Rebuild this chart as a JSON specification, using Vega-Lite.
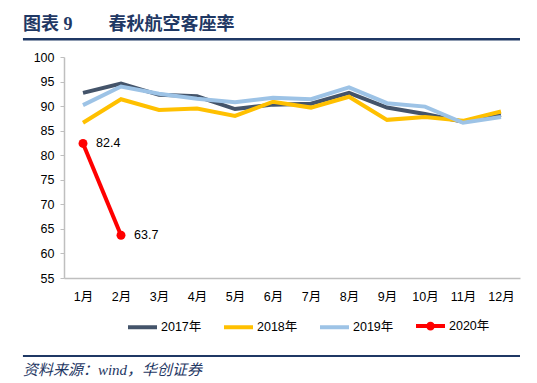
{
  "$schema": "https://vega.github.io/schema/vega-lite/v6.json",
  "padding": {"left": 22, "top": 16, "right": 12, "bottom": 4},
  "background": "white",
  "config": {
    "font": "Liberation Sans, Noto Sans CJK SC",
    "view": {"stroke": null}
  },
  "datasets": {
    "band": [{"start": 0, "end": 1}],
    "rate": [
      {"month": "1月", "year": "2017年", "value": 92.7},
      {"month": "2月", "year": "2017年", "value": 94.6},
      {"month": "3月", "year": "2017年", "value": 92.3},
      {"month": "4月", "year": "2017年", "value": 92.0},
      {"month": "5月", "year": "2017年", "value": 89.4},
      {"month": "6月", "year": "2017年", "value": 90.3},
      {"month": "7月", "year": "2017年", "value": 90.5},
      {"month": "8月", "year": "2017年", "value": 92.7},
      {"month": "9月", "year": "2017年", "value": 89.7},
      {"month": "10月", "year": "2017年", "value": 88.4},
      {"month": "11月", "year": "2017年", "value": 86.8},
      {"month": "12月", "year": "2017年", "value": 88.2},
      {"month": "1月", "year": "2018年", "value": 86.6},
      {"month": "2月", "year": "2018年", "value": 91.4},
      {"month": "3月", "year": "2018年", "value": 89.2},
      {"month": "4月", "year": "2018年", "value": 89.5},
      {"month": "5月", "year": "2018年", "value": 88.0},
      {"month": "6月", "year": "2018年", "value": 90.9},
      {"month": "7月", "year": "2018年", "value": 89.7},
      {"month": "8月", "year": "2018年", "value": 91.9},
      {"month": "9月", "year": "2018年", "value": 87.2},
      {"month": "10月", "year": "2018年", "value": 87.8},
      {"month": "11月", "year": "2018年", "value": 87.0},
      {"month": "12月", "year": "2018年", "value": 88.9},
      {"month": "1月", "year": "2019年", "value": 90.2},
      {"month": "2月", "year": "2019年", "value": 94.0},
      {"month": "3月", "year": "2019年", "value": 92.5},
      {"month": "4月", "year": "2019年", "value": 91.5},
      {"month": "5月", "year": "2019年", "value": 90.8},
      {"month": "6月", "year": "2019年", "value": 91.7},
      {"month": "7月", "year": "2019年", "value": 91.4},
      {"month": "8月", "year": "2019年", "value": 93.8},
      {"month": "9月", "year": "2019年", "value": 90.6},
      {"month": "10月", "year": "2019年", "value": 89.9},
      {"month": "11月", "year": "2019年", "value": 86.6},
      {"month": "12月", "year": "2019年", "value": 87.8},
      {"month": "1月", "year": "2020年", "value": 82.4},
      {"month": "2月", "year": "2020年", "value": 63.7}
    ]
  },
  "spacing": 10,
  "resolve": {"legend": {"color": "independent"}, "scale": {"x": "independent", "y": "independent", "color": "independent"}},
  "vconcat": [
    {
      "width": 456,
      "height": 2.5,
      "title": {
        "text": "图表 9　　春秋航空客座率",
        "anchor": "start",
        "font": "Liberation Serif, Noto Sans CJK SC",
        "fontSize": 18,
        "fontWeight": "bold",
        "color": "#1F3864",
        "offset": 4
      },
      "data": {"name": "band"},
      "mark": {"type": "rect", "color": "#1F3864", "clip": false},
      "encoding": {
        "x": {"field": "start", "type": "quantitative", "scale": {"domain": [0.0826, 1], "nice": false, "zero": false}, "axis": null},
        "x2": {"field": "end"},
        "y": {"field": "start", "type": "quantitative", "scale": {"domain": [0, 1], "nice": false}, "axis": null},
        "y2": {"field": "end"}
      }
    },
    {
      "width": 456,
      "height": 221,
      "data": {"name": "rate"},
      "encoding": {
        "x": {
          "field": "month",
          "type": "ordinal",
          "sort": ["1月", "2月", "3月", "4月", "5月", "6月", "7月", "8月", "9月", "10月", "11月", "12月"],
          "scale": {"type": "point", "padding": 0.5},
          "axis": {
            "title": null,
            "labelAngle": 0,
            "ticks": false,
            "domainColor": "#bfbfbf",
            "domainWidth": 1.5,
            "labelPadding": 12,
            "labelFontSize": 12.5,
            "labelColor": "#000000"
          }
        },
        "y": {
          "field": "value",
          "type": "quantitative",
          "scale": {"domain": [55, 100], "nice": false, "zero": false},
          "axis": {
            "title": null,
            "values": [55, 60, 65, 70, 75, 80, 85, 90, 95, 100],
            "grid": false,
            "domainColor": "#bfbfbf",
            "domainWidth": 1.5,
            "tickColor": "#bfbfbf",
            "tickSize": 4,
            "labelPadding": 6,
            "labelFontSize": 12.5,
            "labelColor": "#000000",
            "minExtent": 41
          }
        },
        "color": {
          "field": "year",
          "type": "nominal",
          "scale": {
            "domain": ["2017年", "2018年", "2019年", "2020年"],
            "range": ["#44546A", "#FFC000", "#9DC3E6", "#FF0000"]
          },
          "legend": {
            "title": null,
            "orient": "none",
            "legendX": 54,
            "legendY": 244.5,
            "padding": 8,
            "direction": "horizontal",
            "symbolType": "stroke",
            "symbolSize": 841,
            "symbolStrokeWidth": 4,
            "labelFontSize": 12.5,
            "labelColor": "#000000",
            "labelOffset": 2,
            "columnPadding": 14,
            "encode": {
              "symbols": {
                "update": {
                  "shape": {"signal": "datum.value === '2020年' ? 'M-1,0L1,0M0.16,0A0.16,0.16 0 1 1 -0.16,0A0.16,0.16 0 1 1 0.16,0Z' : 'stroke'"},
                  "fill": {"signal": "datum.value === '2020年' ? '#FF0000' : 'transparent'"}
                }
              }
            }
          }
        }
      },
      "layer": [
        {
          "mark": {"type": "line", "strokeWidth": 4},
          "encoding": {
            "strokeWidth": {
              "condition": {"test": "datum.year === '2020年'", "value": 3},
              "value": 4
            }
          }
        },
        {
          "transform": [{"filter": "datum.year === '2020年'"}],
          "mark": {"type": "point", "filled": true, "size": 80, "opacity": 1},
          "encoding": {}
        },
        {
          "transform": [{"filter": "datum.year === '2020年'"}],
          "mark": {"type": "text", "align": "left", "dx": 13, "fontSize": 12.5, "color": "#000000"},
          "encoding": {
            "text": {"field": "value", "type": "quantitative", "format": ".1f"},
            "color": {"value": "#000000"}
          }
        }
      ]
    },
    {
      "width": 456,
      "height": 2,
      "title": {
        "text": "资料来源：wind，华创证券",
        "orient": "bottom",
        "anchor": "start",
        "font": "Liberation Serif, Noto Sans CJK SC",
        "fontSize": 15,
        "fontStyle": "italic",
        "fontWeight": "normal",
        "color": "#1F3864",
        "offset": 6
      },
      "data": {"name": "band"},
      "mark": {"type": "rect", "color": "#1F3864", "clip": false},
      "encoding": {
        "x": {"field": "start", "type": "quantitative", "scale": {"domain": [0.0826, 1], "nice": false, "zero": false}, "axis": null},
        "x2": {"field": "end"},
        "y": {"field": "start", "type": "quantitative", "scale": {"domain": [0, 1], "nice": false}, "axis": null},
        "y2": {"field": "end"}
      }
    }
  ]
}
